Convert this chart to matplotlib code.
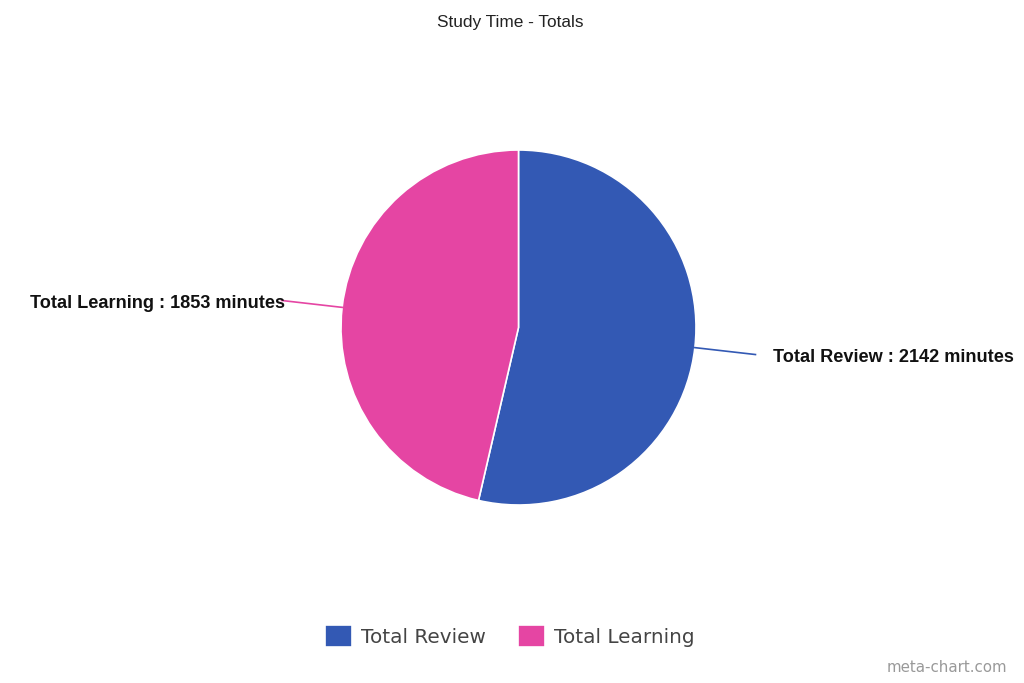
import numpy as np
import matplotlib
matplotlib.use('Agg')
import matplotlib.pyplot as plt

# Data
labels = ['Total Review', 'Total Learning']
minutes = [2142, 1853]
colors = ['#3359b4', '#e545a3']

W, H = 1024, 683
fig = plt.figure(figsize=(W / 100, H / 100), dpi=100)
ax = fig.add_axes([0, 0, 1, 1])

# pie centre / radius in pixel coords
cx, cy, r = 518.5, H - 327.5, 177.5
wedges, _ = ax.pie(minutes, colors=colors, startangle=90, counterclock=False,
                   center=(cx, cy), radius=r, frame=True,
                   wedgeprops=dict(edgecolor='white', linewidth=1.2))
ax.set_xlim(0, W)
ax.set_ylim(0, H)
ax.set_aspect('equal')
ax.axis('off')

# leader lines + labels
for w, lab, val, col in zip(wedges, labels, minutes, colors):
    ang = np.deg2rad((w.theta1 + w.theta2) / 2)
    x0, y0 = cx + r * np.cos(ang), cy + r * np.sin(ang)
    x1, y1 = cx + (r + 61) * np.cos(ang), cy + (r + 61) * np.sin(ang)
    ax.plot([x0, x1], [y0, y1], color=col, lw=1.2)
    txt = f'{lab} : {val} minutes'
    if np.cos(ang) > 0:
        ax.text(x1 + 18, y1 - 3, txt, ha='left', va='center', fontsize=13.1,
                fontweight='bold', family='Liberation Sans', color='#111111')
    else:
        ax.text(x1 + 3, y1 - 3, txt, ha='right', va='center', fontsize=13.1,
                fontweight='bold', family='Liberation Sans', color='#111111')

fig.text(510 / W, 1 - 22 / H, 'Study Time - Totals', ha='center', va='center',
         fontsize=12.4, family='Liberation Sans', color='#222222')

fig.legend(wedges, labels, loc='center', bbox_to_anchor=(510 / W, 1 - 636 / H),
           ncol=2, frameon=False, fontsize=14.4, handlelength=1.35, handleheight=1.3,
           handletextpad=0.45, columnspacing=1.6, labelcolor='#444444')

fig.text(1007 / W, 1 - 668 / H, 'meta-chart.com', ha='right', va='center',
         fontsize=10.8, color='#999999')

fig.savefig('out.png', dpi=100)
